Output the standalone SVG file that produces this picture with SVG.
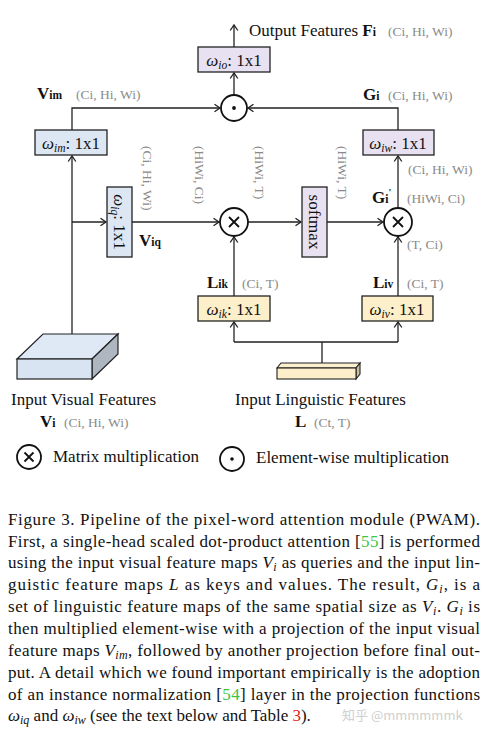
<svg xmlns="http://www.w3.org/2000/svg" width="487" height="733" viewBox="0 0 487 733">
<style>
text{font-family:"Liberation Serif","Times New Roman",serif;fill:#111}
.lbl{font-size:17px}
.b{font-weight:bold}
.g{font-size:13.5px;fill:#8a8a8a}
.cap{font-size:17px}
.ln{fill:none;stroke:#222;stroke-width:1.3}
.box{stroke:#222;stroke-width:1.3}
.blue{fill:#dce7f3}
.lav{fill:#e8e1f2}
.yel{fill:#fdefc9}
.op{fill:#fff;stroke:#111;stroke-width:1.8}
.x{stroke:#111;stroke-width:1.8;fill:none}
</style>
<defs>
<marker id="ah" markerWidth="10" markerHeight="10" refX="0" refY="0" viewBox="-7 -5 8 10" orient="auto" markerUnits="userSpaceOnUse">
<path d="M-5.5,-3.8 L0,0 L-5.5,3.8" fill="none" stroke="#222" stroke-width="1.3"/>
</marker>
</defs>

<g id="connectors">
<path class="ln" d="M234,47 V25" marker-end="url(#ah)"/>
<path class="ln" d="M234,95 V73" marker-end="url(#ah)"/>
<path class="ln" d="M72,130 V108 H220" marker-end="url(#ah)"/>
<path class="ln" d="M398,130 V108 H248" marker-end="url(#ah)"/>
<path class="ln" d="M72,334 V156" marker-end="url(#ah)"/>
<path class="ln" d="M72,222 H106" marker-end="url(#ah)"/>
<path class="ln" d="M132,222 H219" marker-end="url(#ah)"/>
<path class="ln" d="M248,222 H301" marker-end="url(#ah)"/>
<path class="ln" d="M327,222 H383" marker-end="url(#ah)"/>
<path class="ln" d="M234,296 V237" marker-end="url(#ah)"/>
<path class="ln" d="M398,296 V237" marker-end="url(#ah)"/>
<path class="ln" d="M398,208 V156" marker-end="url(#ah)"/>
<path class="ln" d="M322,363 V342 M234,342 H398"/>
<path class="ln" d="M234,342 V322" marker-end="url(#ah)"/>
<path class="ln" d="M398,342 V322" marker-end="url(#ah)"/>
</g>

<g id="output-label">
<text class="lbl" x="249" y="36">Output Features <tspan class="b">F</tspan><tspan class="b" font-size="11.5">i</tspan></text>
<text class="g" x="388" y="36">(Ci, Hi, Wi)</text>
</g>

<g id="w-io">
<rect class="box lav" x="198" y="47" width="72" height="25"/>
<text class="lbl" x="234" y="65.5" text-anchor="middle"><tspan font-style="italic">ω</tspan><tspan font-style="italic" font-size="11.5" dy="3">io</tspan><tspan dy="-3">: 1x1</tspan></text>
</g>

<g id="ew-mult">
<circle class="op" cx="234" cy="108" r="13"/>
<circle cx="234" cy="108" r="1.9" fill="#111"/>
</g>

<g id="v-im-label">
<text class="lbl b" x="37" y="99">V<tspan font-size="11.5">im</tspan></text>
<text class="g" x="76" y="99">(Ci, Hi, Wi)</text>
</g>

<g id="g-i-label">
<text class="lbl b" x="363" y="100">G<tspan font-size="11.5">i</tspan></text>
<text class="g" x="388" y="100">(Ci, Hi, Wi)</text>
</g>

<g id="w-im">
<rect class="box blue" x="35" y="130" width="72" height="25"/>
<text class="lbl" x="71" y="148.5" text-anchor="middle"><tspan font-style="italic">ω</tspan><tspan font-style="italic" font-size="11.5" dy="3">im</tspan><tspan dy="-3">: 1x1</tspan></text>
</g>

<g id="w-iw">
<rect class="box lav" x="363" y="130" width="71" height="25"/>
<text class="lbl" x="398" y="148.5" text-anchor="middle"><tspan font-style="italic">ω</tspan><tspan font-style="italic" font-size="11.5" dy="3">iw</tspan><tspan dy="-3">: 1x1</tspan></text>
<text class="g" x="408" y="174">(Ci, Hi, Wi)</text>
</g>

<g id="dim-labels">
<text class="g" transform="translate(142.5,146) rotate(90)">(Ci, Hi, Wi)</text>
<text class="g" transform="translate(194.5,146) rotate(90)">(HiWi, Ci)</text>
<text class="g" transform="translate(254.5,146) rotate(90)">(HiWi, T)</text>
<text class="g" transform="translate(337.5,146) rotate(90)">(HiWi, T)</text>
</g>

<g id="w-iq">
<rect class="box blue" x="107" y="187" width="25" height="70"/>
<text class="lbl" transform="translate(113.5,222) rotate(90)" text-anchor="middle"><tspan font-style="italic">ω</tspan><tspan font-style="italic" font-size="11.5" dy="3">iq</tspan><tspan dy="-3">: 1x1</tspan></text>
<text class="lbl b" x="139" y="246">V<tspan font-size="11.5">iq</tspan></text>
</g>

<g id="mat-mult-1">
<circle class="op" cx="234" cy="222" r="14"/>
<path class="x" d="M229,217 L239,227 M239,217 L229,227"/>
</g>

<g id="softmax">
<rect class="box lav" x="302" y="187" width="25" height="70"/>
<text class="lbl" transform="translate(308.5,222) rotate(90)" text-anchor="middle">softmax</text>
</g>

<g id="mat-mult-2">
<circle class="op" cx="398" cy="222" r="14"/>
<path class="x" d="M393,217 L403,227 M403,217 L393,227"/>
<text class="lbl b" x="372" y="203">G<tspan font-size="11.5">i</tspan><tspan font-size="10" dy="-7">'</tspan></text>
<text class="g" x="407" y="203">(HiWi, Ci)</text>
<text class="g" x="407" y="249">(T, Ci)</text>
</g>

<g id="w-ik">
<text class="lbl b" x="207" y="288">L<tspan font-size="11.5">ik</tspan></text>
<text class="g" x="242" y="288">(Ci, T)</text>
<rect class="box yel" x="198" y="296" width="72" height="25"/>
<text class="lbl" x="234" y="314.5" text-anchor="middle"><tspan font-style="italic">ω</tspan><tspan font-style="italic" font-size="11.5" dy="3">ik</tspan><tspan dy="-3">: 1x1</tspan></text>
</g>

<g id="w-iv">
<text class="lbl b" x="373" y="288">L<tspan font-size="11.5">iv</tspan></text>
<text class="g" x="407" y="288">(Ci, T)</text>
<rect class="box yel" x="362" y="296" width="71" height="25"/>
<text class="lbl" x="397" y="314.5" text-anchor="middle"><tspan font-style="italic">ω</tspan><tspan font-style="italic" font-size="11.5" dy="3">iv</tspan><tspan dy="-3">: 1x1</tspan></text>
</g>

<g id="input-visual">
<polygon points="17,359 43,334 118,334 92,359" fill="#dfe9f5" stroke="#222" stroke-width="1.2"/>
<polygon points="92,359 118,334 118,354 92,379" fill="#aeb6bf" stroke="#222" stroke-width="1.2"/>
<rect x="17" y="359" width="75" height="20" fill="#d8e4f1" stroke="#222" stroke-width="1.2"/>
<text class="lbl" x="11" y="405">Input Visual Features</text>
<text class="lbl b" x="40" y="427">V<tspan font-size="11.5">i</tspan></text>
<text class="g" x="64" y="427">(Ci, Hi, Wi)</text>
</g>

<g id="input-linguistic">
<polygon points="277,368 281,363 360,363 356,368" fill="#fdf0cf" stroke="#222" stroke-width="1.1"/>
<polygon points="356,368 360,363 360,374 356,379" fill="#cbbf9f" stroke="#222" stroke-width="1.1"/>
<rect x="277" y="368" width="79" height="11" fill="#fdefc9" stroke="#222" stroke-width="1.1"/>
<text class="lbl" x="235" y="405">Input Linguistic Features</text>
<text class="lbl b" x="295" y="427">L</text>
<text class="g" x="314" y="427">(Ct, T)</text>
</g>

<g id="legend">
<circle class="op" cx="29" cy="457" r="12"/>
<path class="x" d="M24.5,452.5 L33.5,461.5 M33.5,452.5 L24.5,461.5"/>
<text class="lbl" x="53" y="462">Matrix multiplication</text>
<circle class="op" cx="232" cy="459" r="12"/>
<circle cx="232" cy="459" r="1.8" fill="#111"/>
<text class="lbl" x="256" y="463">Element-wise multiplication</text>
</g>

<g id="caption">
<text class="cap" x="8" y="525" textLength="472" lengthAdjust="spacing">Figure 3.  Pipeline of the pixel-word attention module (PWAM).</text>
<text class="cap" x="8" y="547" textLength="472" lengthAdjust="spacing">First, a single-head scaled dot-product attention [<tspan fill="#3fc43f">55</tspan>] is performed</text>
<text class="cap" x="8" y="568" textLength="472" lengthAdjust="spacing">using the input visual feature maps <tspan font-style="italic">V</tspan><tspan font-style="italic" font-size="12" dy="3">i</tspan><tspan dy="-3"> as queries and the input lin-</tspan></text>
<text class="cap" x="8" y="590" textLength="472" lengthAdjust="spacing">guistic feature maps <tspan font-style="italic">L</tspan> as keys and values.  The result, <tspan font-style="italic">G</tspan><tspan font-style="italic" font-size="12" dy="3">i</tspan><tspan dy="-3">, is a</tspan></text>
<text class="cap" x="8" y="612" textLength="472" lengthAdjust="spacing">set of linguistic feature maps of the same spatial size as <tspan font-style="italic">V</tspan><tspan font-style="italic" font-size="12" dy="3">i</tspan><tspan dy="-3">.  </tspan><tspan font-style="italic">G</tspan><tspan font-style="italic" font-size="12" dy="3">i</tspan><tspan dy="-3"> is</tspan></text>
<text class="cap" x="8" y="634" textLength="472" lengthAdjust="spacing">then multiplied element-wise with a projection of the input visual</text>
<text class="cap" x="8" y="656" textLength="472" lengthAdjust="spacing">feature maps <tspan font-style="italic">V</tspan><tspan font-style="italic" font-size="12" dy="3">im</tspan><tspan dy="-3">, followed by another projection before final out-</tspan></text>
<text class="cap" x="8" y="678" textLength="472" lengthAdjust="spacing">put. A detail which we found important empirically is the adoption</text>
<text class="cap" x="8" y="700" textLength="472" lengthAdjust="spacing">of an instance normalization [<tspan fill="#3fc43f">54</tspan>] layer in the projection functions</text>
<text class="cap" x="8" y="721"><tspan font-style="italic">ω</tspan><tspan font-style="italic" font-size="12" dy="3">iq</tspan><tspan dy="-3"> and </tspan><tspan font-style="italic">ω</tspan><tspan font-style="italic" font-size="12" dy="3">iw</tspan><tspan dy="-3"> (see the text below and Table </tspan><tspan fill="#e02020">3</tspan>).</text>
<text x="342" y="720" font-size="13" style="font-family:'Noto Sans CJK SC','Noto Sans',sans-serif;fill:#cfcfcf">知乎 @mmmmmmk</text>
</g>
</svg>
